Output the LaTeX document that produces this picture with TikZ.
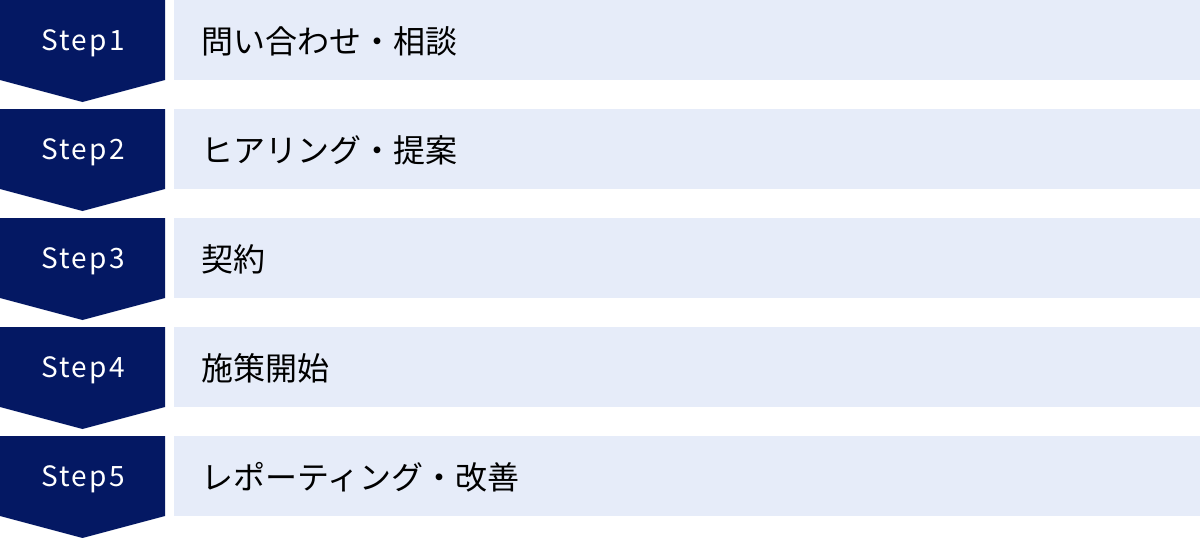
\documentclass[tikz,border=0pt]{standalone}
\usepackage{fontspec}
\setmainfont{Noto Sans CJK JP}
\newfontfamily\stepfont[LetterSpace=8]{Noto Sans CJK JP}
\definecolor{stepnavy}{HTML}{041863}
\definecolor{rowblue}{HTML}{E6ECF9}
\tikzset{
  steplabel/.style={text=white, inner sep=0pt, font=\stepfont\fontsize{28}{28}\selectfont},
  rowbox/.style={fill=rowblue, draw=none, anchor=north west, inner sep=0pt,
    minimum width=1026pt, minimum height=80pt},
  rowlabel/.style={anchor=west, inner sep=0pt, text=black, font=\fontsize{32}{32}\selectfont},
}
\begin{document}
\begin{tikzpicture}[x=1pt, y=-1pt]
      \useasboundingbox (0,0) rectangle (1200,538);
      % step markers
      \begin{scope}[fill=stepnavy]
        \fill (0,0) -- (165,0) -- (165,80) -- (82.5,102) -- (0,80) -- cycle;
        \fill (0,109) -- (165,109) -- (165,189) -- (82.5,211) -- (0,189) -- cycle;
        \fill (0,218) -- (165,218) -- (165,298) -- (82.5,320) -- (0,298) -- cycle;
        \fill (0,327) -- (165,327) -- (165,407) -- (82.5,429) -- (0,407) -- cycle;
        \fill (0,436) -- (165,436) -- (165,516) -- (82.5,538) -- (0,516) -- cycle;
      \end{scope}
      \node[steplabel] (s1) at (83,43) {Step1};
      \node[steplabel] (s2) at (83,152) {Step2};
      \node[steplabel] (s3) at (83,261) {Step3};
      \node[steplabel] (s4) at (83,370) {Step4};
      \node[steplabel] (s5) at (83,479) {Step5};
      % rows
      \node[rowbox] (r1) at (174,0) {};
      \node[rowbox] (r2) at (174,109) {};
      \node[rowbox] (r3) at (174,218) {};
      \node[rowbox] (r4) at (174,327) {};
      \node[rowbox] (r5) at (174,436) {};
      \node[rowlabel] (t1) at (201,41) {問い合わせ・相談};
      \node[rowlabel] (t2) at (201,150) {ヒアリング・提案};
      \node[rowlabel] (t3) at (201,259) {契約};
      \node[rowlabel] (t4) at (201,368) {施策開始};
      \node[rowlabel] (t5) at (201,477) {レポーティング・改善};
    \end{tikzpicture}
\end{document}
